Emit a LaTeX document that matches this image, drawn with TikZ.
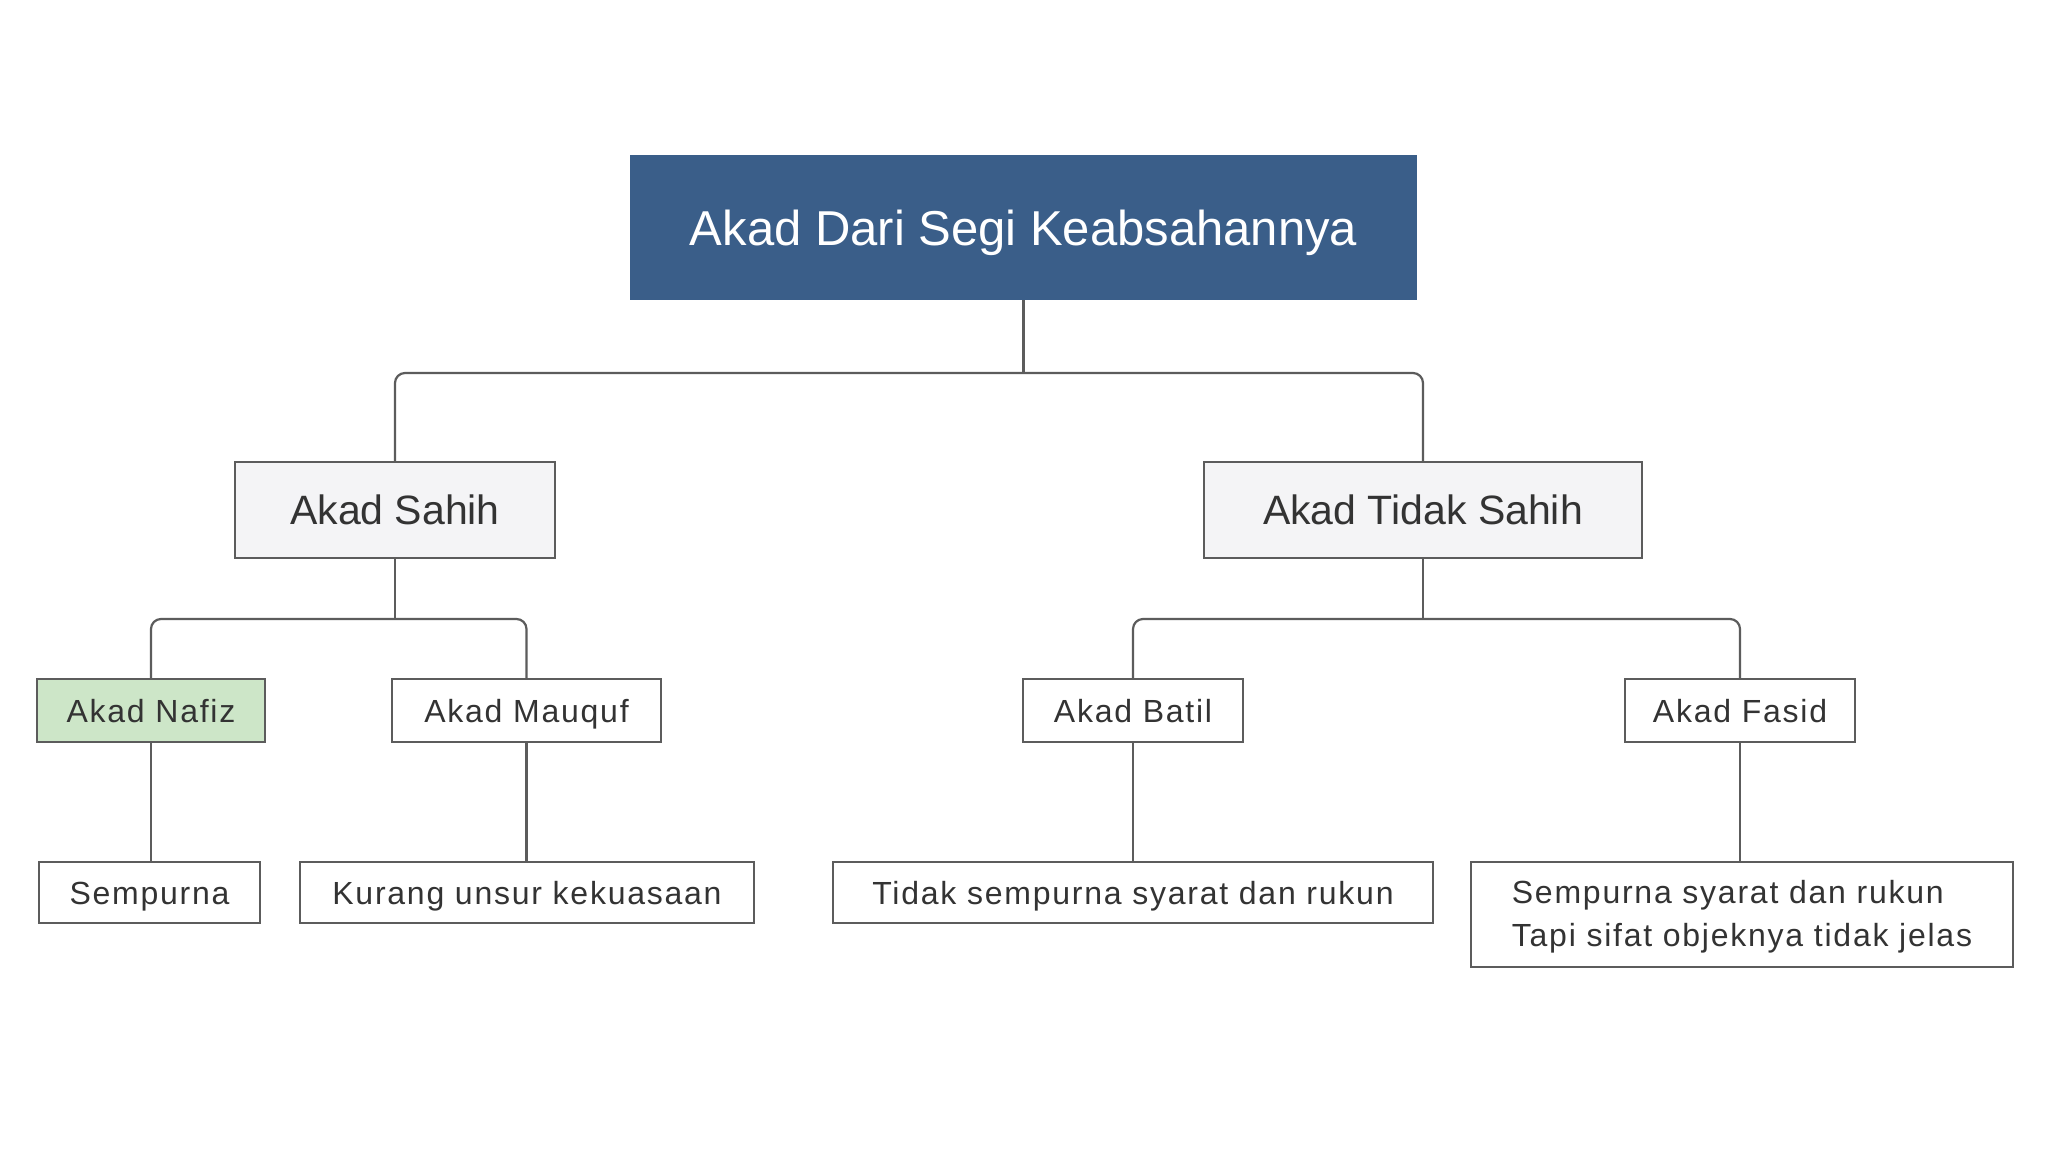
\documentclass[tikz,border=0pt]{standalone}
\usepackage{fontspec}
\setmainfont{Liberation Sans}
\newfontfamily\smallfam[LetterSpace=5.5]{Liberation Sans}
\definecolor{rootblue}{HTML}{3A5E89}
\definecolor{lightbox}{HTML}{F4F4F6}
\definecolor{nafizgreen}{HTML}{CDE6C8}
\definecolor{edgegray}{HTML}{5C5C5C}
\definecolor{txtgray}{HTML}{333333}
\begin{document}
\begin{tikzpicture}[x=0.5pt,y=-0.5pt,
  box/.style={draw=edgegray,line width=1.1pt,inner sep=0pt,text=txtgray},
  rootbox/.style={fill=rootblue,draw=none,inner sep=0pt,text=white,font=\fontsize{24.5}{29}\selectfont,minimum width=393.5pt,minimum height=72.5pt,text height=22.7pt,text depth=4.5pt},
  midbox/.style={box,fill=lightbox,font=\fontsize{20.5}{25}\selectfont,minimum height=48pt,text height=17.4pt,text depth=3.2pt},
  lowbox/.style={box,fill=white,font=\smallfam\fontsize{16}{21.5}\selectfont,minimum height=31.5pt,text height=14.8pt,text depth=2.6pt},
  leafbox/.style={box,fill=white,font=\smallfam\fontsize{16}{21.5}\selectfont,minimum height=30.5pt},
  leafline/.style={text height=14.2pt,text depth=2.6pt},
  conn/.style={draw=edgegray,line width=1.1pt,rounded corners=5pt}]
\useasboundingbox[fill=white] (0,0) rectangle (2048,1152);
% nodes
\node[rootbox] (root) at (1023.5,227.5) {Akad Dari Segi Keabsahannya};
\node[midbox,minimum width=160pt] (sahih) at (395,510) {Akad Sahih};
\node[midbox,minimum width=219pt] (tidak) at (1423,510) {Akad Tidak Sahih};
\node[lowbox,fill=nafizgreen,minimum width=114pt] (nafiz) at (151,710.5) {Akad Nafiz};
\node[lowbox,minimum width=134.5pt] (mauquf) at (526.5,710.5) {Akad Mauquf};
\node[lowbox,minimum width=110pt] (batil) at (1133,710.5) {Akad Batil};
\node[lowbox,minimum width=115pt] (fasid) at (1740,710.5) {Akad Fasid};
\node[leafbox,leafline,minimum width=110.5pt] (semp) at (149.5,892.5) {Sempurna};
\node[leafbox,leafline,minimum width=227pt] (kurang) at (527,892.5) {Kurang unsur kekuasaan};
\node[leafbox,leafline,minimum width=300pt] (tsemp) at (1133,892.5) {Tidak sempurna syarat dan rukun};
\node[leafbox,minimum width=271pt,minimum height=52.5pt,align=left] (ssyarat) at (1742,914.5) {\rule{0pt}{14.2pt}Sempurna syarat dan rukun\\Tapi sifat objeknya tidak jelas};
% bus coordinates
\coordinate (bus0) at (1023.5,373);
\coordinate (busL) at (395,619);
\coordinate (busR) at (1423,619);
% connectors
\draw[conn] (root.south) -- (bus0);
\draw[conn] (sahih.north) |- (bus0) -| (tidak.north);
\draw[conn] (sahih.south) -- (busL);
\draw[conn] (nafiz.north) |- (busL) -| (mauquf.north);
\draw[conn] (tidak.south) -- (busR);
\draw[conn] (batil.north) |- (busR) -| (fasid.north);
\draw[conn] (nafiz.south) -- (nafiz.south |- semp.north);
\draw[conn] (mauquf.south) -- (mauquf.south |- kurang.north);
\draw[conn] (batil.south) -- (batil.south |- tsemp.north);
\draw[conn] (fasid.south) -- (fasid.south |- ssyarat.north);
\end{tikzpicture}
\end{document}
